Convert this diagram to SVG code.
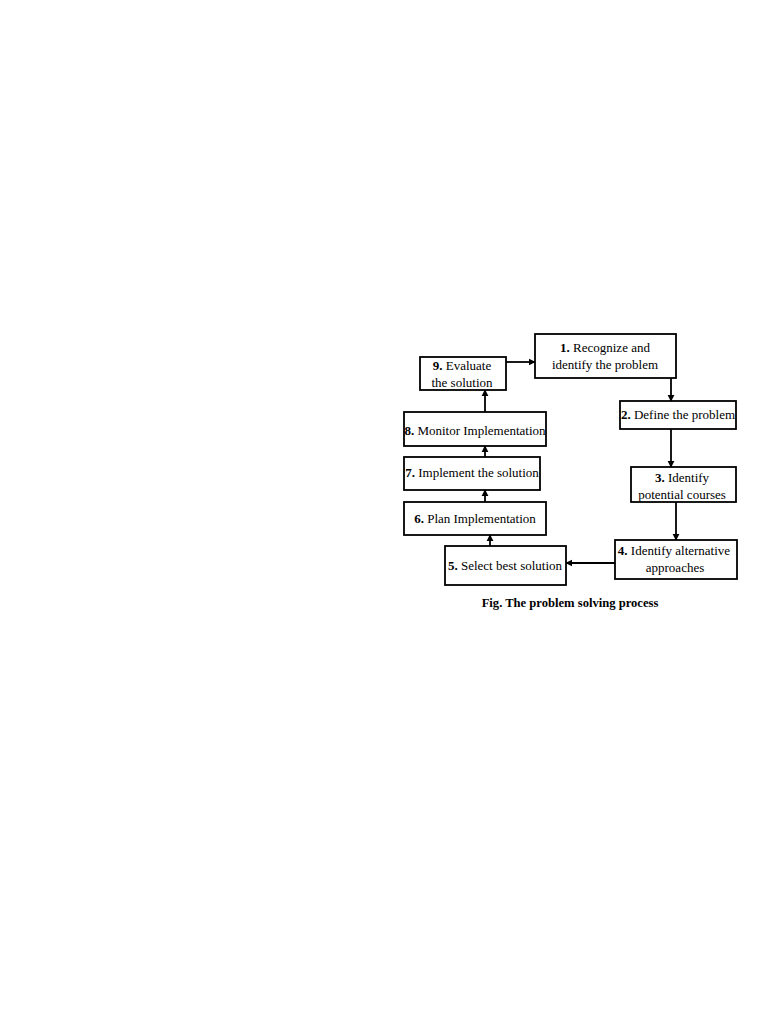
<svg xmlns="http://www.w3.org/2000/svg" width="768" height="1024" viewBox="0 0 768 1024">
<defs>
<style>
.box{fill:#fff;stroke:#000;stroke-width:1.8}
.t{font-family:"Liberation Serif","Times New Roman",serif;font-size:13px;fill:#000;text-anchor:middle}
.b{font-weight:bold}
.cap{font-size:12.6px}
.c{stroke:#000;stroke-width:1.8;fill:none;marker-end:url(#ah)}
</style>
<marker id="ah" viewBox="0 0 10 10" refX="9" refY="5" markerWidth="4" markerHeight="4" orient="auto" markerUnits="strokeWidth">
<path d="M0,0 L10,5 L0,10 z" fill="#000"/>
</marker>
</defs>
<rect width="768" height="1024" fill="#fff"/>
<g id="connectors">
<line class="c" x1="506" y1="362" x2="535" y2="362"/>
<line class="c" x1="671" y1="378" x2="671" y2="401"/>
<line class="c" x1="671" y1="429" x2="671" y2="467"/>
<line class="c" x1="676" y1="502" x2="676" y2="540"/>
<line class="c" x1="615" y1="563" x2="566" y2="563"/>
<line class="c" x1="490" y1="546" x2="490" y2="535"/>
<line class="c" x1="485" y1="502" x2="485" y2="490"/>
<line class="c" x1="485" y1="457" x2="485" y2="446"/>
<line class="c" x1="485" y1="412" x2="485" y2="390"/>
</g>
<g id="n1">
<rect class="box" x="535" y="334" width="141" height="44"/>
<text class="t" x="605" y="352"><tspan class="b">1.</tspan> Recognize and</text>
<text class="t" x="605" y="369">identify the problem</text>
</g>
<g id="n2">
<rect class="box" x="620" y="401" width="116" height="28"/>
<text class="t" x="678" y="419"><tspan class="b">2.</tspan> Define the problem</text>
</g>
<g id="n3">
<rect class="box" x="631" y="467" width="105" height="35"/>
<text class="t" x="682" y="482"><tspan class="b">3.</tspan> Identify</text>
<text class="t" x="682" y="499">potential courses</text>
</g>
<g id="n4">
<rect class="box" x="615" y="540" width="122" height="39"/>
<text class="t" x="674" y="555"><tspan class="b">4.</tspan> Identify alternative</text>
<text class="t" x="675" y="572">approaches</text>
</g>
<g id="n5">
<rect class="box" x="445" y="546" width="121" height="39"/>
<text class="t" x="505" y="570"><tspan class="b">5.</tspan> Select best solution</text>
</g>
<g id="n6">
<rect class="box" x="404" y="502" width="142" height="33"/>
<text class="t" x="475" y="523"><tspan class="b">6.</tspan> Plan Implementation</text>
</g>
<g id="n7">
<rect class="box" x="404" y="457" width="136" height="33"/>
<text class="t" x="472" y="477"><tspan class="b">7.</tspan> Implement the solution</text>
</g>
<g id="n8">
<rect class="box" x="404" y="412" width="142" height="34"/>
<text class="t" x="475" y="435"><tspan class="b">8.</tspan> Monitor Implementation</text>
</g>
<g id="n9">
<rect class="box" x="420" y="357" width="86" height="33"/>
<text class="t" x="462" y="370"><tspan class="b">9.</tspan> Evaluate</text>
<text class="t" x="462" y="387">the solution</text>
</g>
<text class="t b cap" x="570" y="607">Fig. The problem solving process</text>
</svg>
